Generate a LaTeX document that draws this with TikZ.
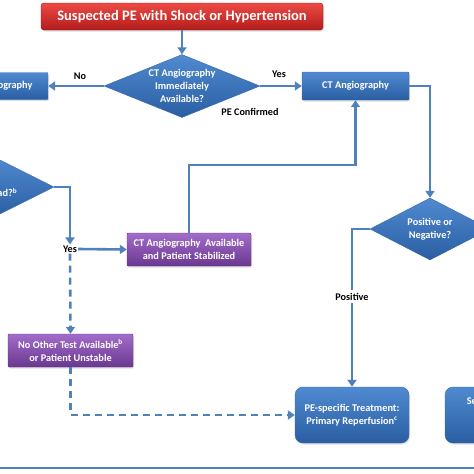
\documentclass[tikz,border=0pt]{standalone}
\usepackage{fontspec}
\setmainfont{Carlito}
\usetikzlibrary{arrows.meta,shapes.geometric,shadows}
\definecolor{flowblue}{RGB}{79,129,189}
\definecolor{boxtop}{RGB}{80,138,208}
\definecolor{boxbot}{RGB}{42,94,162}
\definecolor{boxedge}{RGB}{58,104,168}
\definecolor{purtop}{RGB}{162,108,202}
\definecolor{purbot}{RGB}{106,56,144}
\definecolor{puredge}{RGB}{96,52,130}
\definecolor{redtop}{RGB}{238,74,68}
\definecolor{redbot}{RGB}{178,28,28}
\definecolor{rededge}{RGB}{140,22,22}

\begin{document}
\begin{tikzpicture}[x=1pt, y=-1pt,
    boxfont/.style={text=white, font=\bfseries\fontsize{10.3}{13}\selectfont, align=center, inner sep=0pt},
    bluebox/.style={boxfont, rectangle, draw=boxedge, top color=boxtop, bottom color=boxbot,
        rounded corners=1pt, drop shadow={opacity=0.25, shadow xshift=1pt, shadow yshift=-1.5pt}},
    purplebox/.style={boxfont, rectangle, draw=puredge, top color=purtop, bottom color=purbot,
        rounded corners=1pt, drop shadow={opacity=0.25, shadow xshift=1pt, shadow yshift=-1.5pt}},
    question/.style={boxfont, diamond, inner sep=-3pt, draw=boxedge, top color=boxtop, bottom color=boxbot},
    lbl/.style={font=\bfseries\fontsize{10.2}{12}\selectfont, text=black, inner sep=1pt},
    flow/.style={draw=flowblue, line width=2.6pt, -{Triangle[length=7pt, width=9pt]}},
    dashflow/.style={flow, dash pattern=on 7pt off 5pt}]

    \useasboundingbox (0,0) rectangle (474,474);

    \node[boxfont, rectangle, draw=rededge, top color=redtop, bottom color=redbot, rounded corners=3pt,
        font=\bfseries\fontsize{14.5}{16}\selectfont, minimum width=282, minimum height=27,
        drop shadow={opacity=0.25, shadow xshift=1pt, shadow yshift=-1.5pt}] (suspect) at (182,16.5)
        {Suspected PE with Shock or Hypertension};

    \node[question, aspect=2.48, minimum width=156, minimum height=63] (ctavail) at (182,86)
        {CT Angiography\\Immediately\\Available?};
    \node[bluebox, minimum width=107, minimum height=27] (echo) at (-5.5,86) {Echocardiography};
    \node[bluebox, minimum width=107, minimum height=28] (ctangio) at (355.5,86) {CT Angiography};
    \node[question, aspect=2, minimum width=122, minimum height=61] (rvload) at (-7,187)
        {RV\\Overload?\textsuperscript{b}};
    \node[question, aspect=1.94, minimum width=120, minimum height=62] (posneg) at (430,229)
        {Positive or\\Negative?};
    \node[purplebox, minimum width=124, minimum height=33] (stable) at (189,249.5)
        {CT Angiography~ Available\\and Patient Stabilized};
    \node[purplebox, minimum width=125, minimum height=33] (unstable) at (70.5,350.5)
        {No Other Test Available\textsuperscript{b}\\or Patient Unstable};
    \node[bluebox, rounded corners=8pt, minimum width=114, minimum height=56] (reperf) at (352,415)
        {PE-specific Treatment:\\Primary Reperfusion\textsuperscript{c}};
    \node[bluebox, rounded corners=8pt, minimum width=114, minimum height=56] (search) at (502,415)
        {Search for Other\\Causes of\\Instability};

    \node[lbl] (nolbl) at (80,76) {No};
    \node[lbl] (yeslbl) at (279,74) {Yes};
    \node[lbl] (confirmed) at (250,112) {PE Confirmed};
    \node[lbl] (yesrv) at (70,249) {Yes};

    \draw[flow] (suspect) -- (ctavail);
    \draw[flow] (ctavail.west) -- (echo.east);
    \draw[flow] (ctavail.east) -- (ctangio.west);
    \draw[flow] (ctangio.east) -| (posneg.north);
    \draw[flow] (stable.north) -- ++(0,-68) -| (ctangio.south);
    \draw[flow] (rvload.east) -| (yesrv.north);
    \draw[flow] (yesrv.east) -- (stable.west);
    \draw[dashflow] (yesrv.south) -- (unstable.north);
    \draw[dashflow] (unstable.south) |- (reperf.west);
    \draw[flow] (posneg.west) -| (reperf.north)
        node[lbl, pos=0.715, fill=white, inner sep=3pt] (poslbl) {Positive};

    \draw[flowblue, line width=2.5pt] (0,468) -- (474,468);
\end{tikzpicture}
\end{document}
